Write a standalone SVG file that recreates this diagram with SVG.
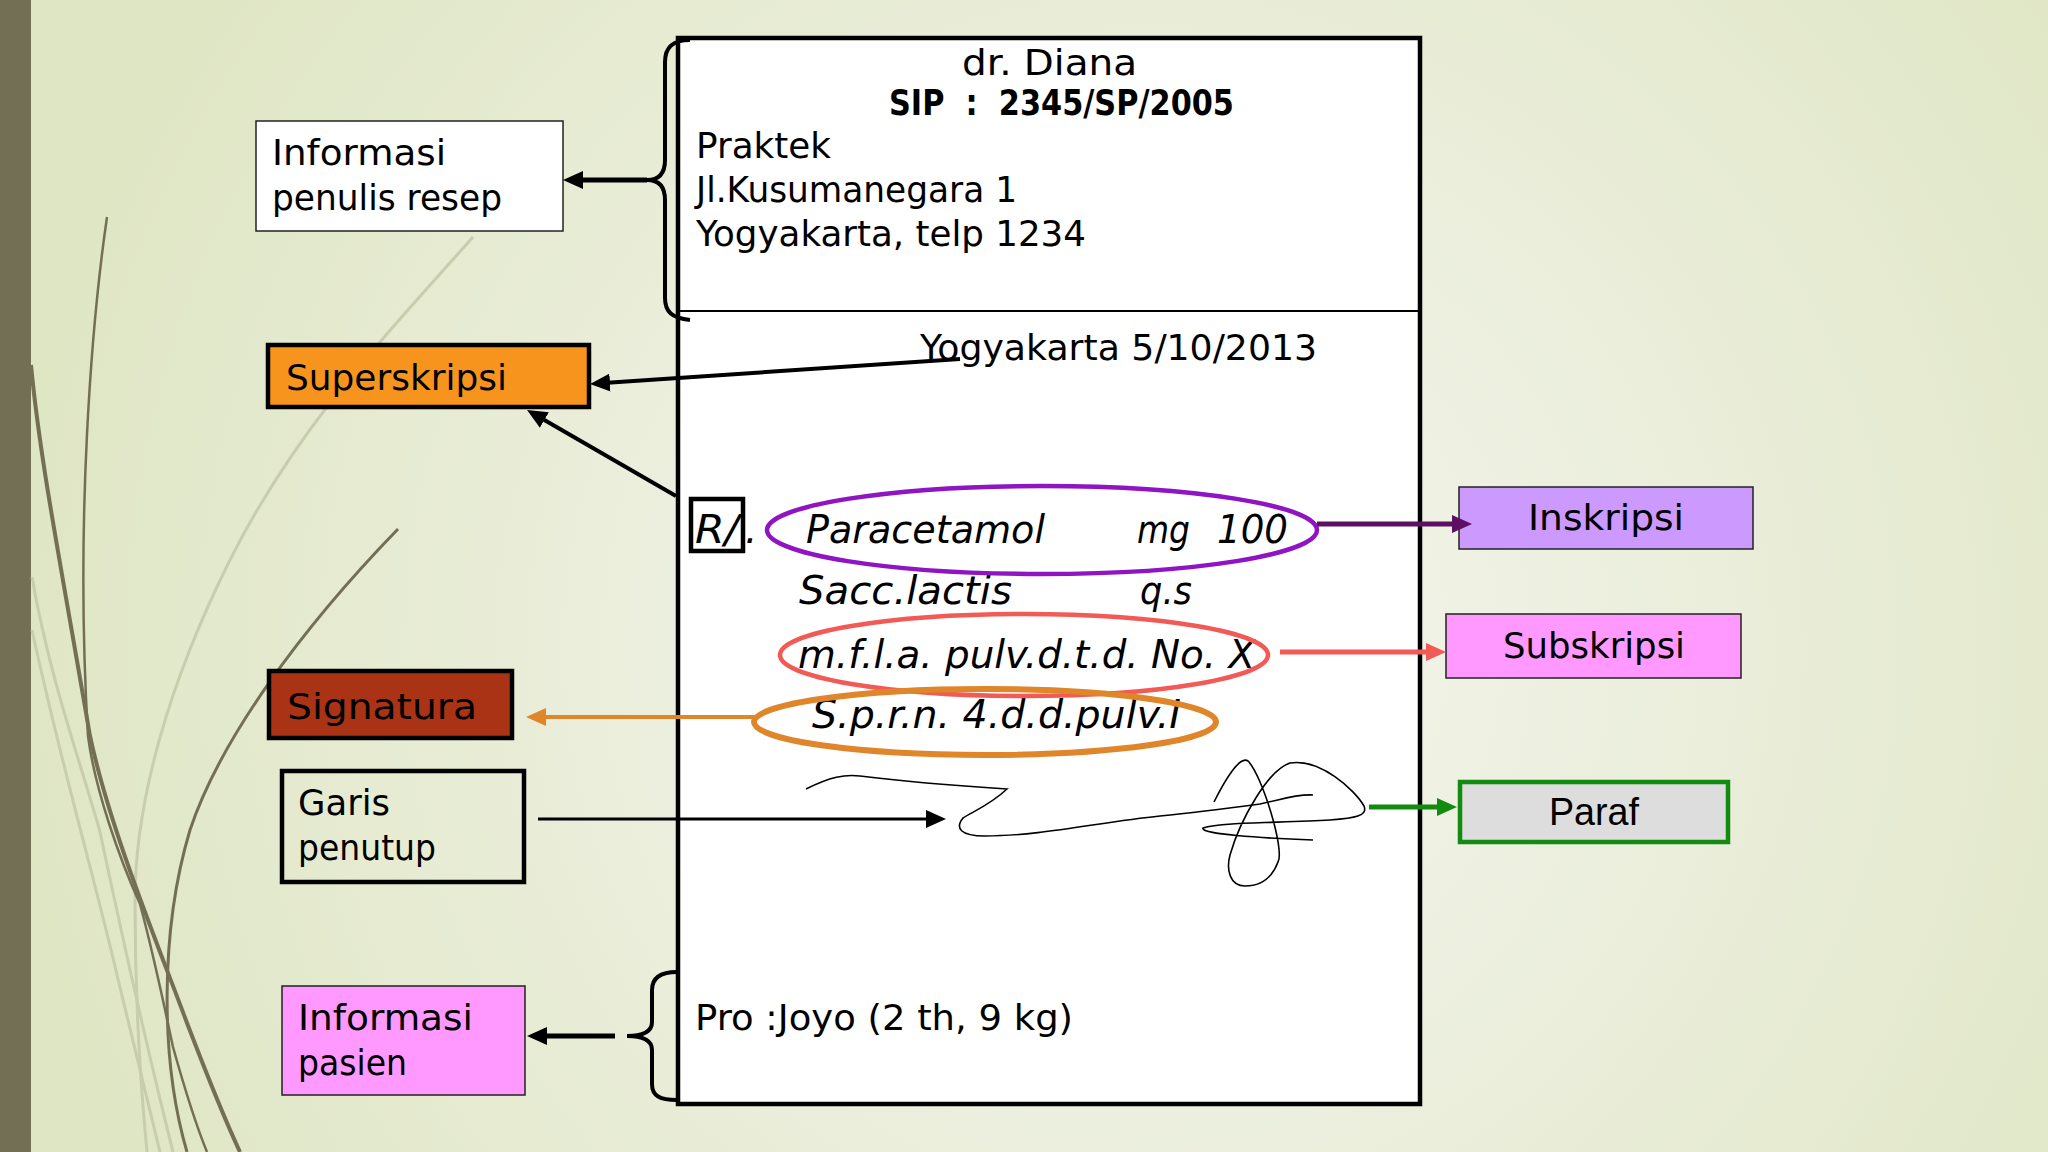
<svg xmlns="http://www.w3.org/2000/svg" width="2048" height="1152" viewBox="0 0 2048 1152">
  <defs>
    <radialGradient id="bg" cx="1150" cy="650" r="1150" gradientUnits="userSpaceOnUse">
      <stop offset="0" stop-color="#f5f6ee"/>
      <stop offset="0.55" stop-color="#e9edd8"/>
      <stop offset="1" stop-color="#dfe6c4"/>
    </radialGradient>
    <marker id="ahBlack" markerUnits="userSpaceOnUse" markerWidth="20" markerHeight="18" refX="10" refY="9" orient="auto">
      <path d="M0,0 L20,9 L0,18 z" fill="#000"/>
    </marker>
    <marker id="ahPurple" markerUnits="userSpaceOnUse" markerWidth="20" markerHeight="18" refX="10" refY="9" orient="auto">
      <path d="M0,0 L20,9 L0,18 z" fill="#5c0f63"/>
    </marker>
    <marker id="ahRed" markerUnits="userSpaceOnUse" markerWidth="20" markerHeight="18" refX="10" refY="9" orient="auto">
      <path d="M0,0 L20,9 L0,18 z" fill="#f25a55"/>
    </marker>
    <marker id="ahOrange" markerUnits="userSpaceOnUse" markerWidth="20" markerHeight="18" refX="10" refY="9" orient="auto">
      <path d="M0,0 L20,9 L0,18 z" fill="#e0862a"/>
    </marker>
    <marker id="ahGreen" markerUnits="userSpaceOnUse" markerWidth="20" markerHeight="18" refX="10" refY="9" orient="auto">
      <path d="M0,0 L20,9 L0,18 z" fill="#118c11"/>
    </marker>
  </defs>
  <style>
    .t { font-family: "DejaVu Sans", "Liberation Sans", sans-serif; font-size: 36px; fill: #000; }
    .it { font-family: "DejaVu Sans", "Liberation Sans", sans-serif; font-size: 39px; font-style: italic; fill: #000; }
    .thin { stroke: #222; stroke-width: 1.5; }
    .thick { stroke: #000; stroke-width: 4.5; }
    .deco { fill: none; stroke: #736f55; }
    .pale { fill: none; stroke: #c8cdae; }
    .brace { fill: none; stroke: #000; stroke-width: 4; }
  </style>

  <!-- background -->
  <rect x="0" y="0" width="2048" height="1152" fill="url(#bg)"/>
  <rect x="0" y="0" width="31" height="1152" fill="#736f55"/>
  <g id="decor">
    <path class="pale" stroke-width="3" d="M473,237 C400,320 300,420 230,560 C170,680 135,800 135,900 C135,1000 140,1080 147,1152"/>
    <path class="pale" stroke-width="3" d="M32,577 C50,680 80,760 100,832 C125,950 150,1060 173,1152"/>
    <path class="pale" stroke-width="3" d="M32,630 C60,760 95,880 117,975 C135,1050 150,1110 160,1152"/>
    <path class="deco" stroke-width="4" d="M31,365 C40,460 60,560 90,736 C110,830 160,950 187,1023 C205,1070 225,1120 240,1152"/>
    <path class="deco" stroke-width="2.5" d="M107,217 C92,320 75,520 88,736 C95,790 120,860 140,904 C155,960 165,1010 173,1047 C185,1090 198,1130 207,1152"/>
    <path class="deco" stroke-width="3" d="M398,529 C300,630 220,740 190,830 C160,930 160,1060 187,1152"/>
  </g>

  <!-- prescription sheet -->
  <g id="resep">
    <rect x="678" y="38" width="742" height="1066" fill="#fff" class="thick"/>
    <line x1="678" y1="311" x2="1420" y2="311" stroke="#000" stroke-width="2"/>
    <path class="brace" d="M690,40 C672,40 665,48 665,62 L665,160 C665,174 658,180 647,180 C658,180 665,186 665,200 L665,298 C665,312 672,318 690,320"/>
    <path class="brace" d="M677,972 C660,972 652,978 652,990 L652,1022 C652,1032 642,1036 627,1036 C642,1036 652,1040 652,1050 L652,1084 C652,1096 660,1100 677,1100"/>
    <text class="t" x="962" y="75" font-size="38" textLength="175" lengthAdjust="spacingAndGlyphs">dr. Diana</text>
    <text class="t" x="889" y="115" font-size="30" font-weight="bold" textLength="345" lengthAdjust="spacingAndGlyphs" xml:space="preserve">SIP  :  2345/SP/2005</text>
    <text class="t" x="696" y="158" textLength="135" lengthAdjust="spacingAndGlyphs">Praktek</text>
    <text class="t" x="696" y="202" textLength="321" lengthAdjust="spacingAndGlyphs">Jl.Kusumanegara 1</text>
    <text class="t" x="696" y="246" textLength="390" lengthAdjust="spacingAndGlyphs">Yogyakarta, telp 1234</text>
    <text class="t" x="920" y="360" textLength="397" lengthAdjust="spacingAndGlyphs">Yogyakarta 5/10/2013</text>
    <rect x="691" y="499" width="52" height="52" fill="none" class="thick"/>
    <text class="it" x="695" y="543" textLength="44" lengthAdjust="spacingAndGlyphs">R/</text>
    <text class="it" x="745" y="543">.</text>
    <text class="it" x="806" y="543" textLength="239" lengthAdjust="spacingAndGlyphs">Paracetamol</text>
    <text class="it" x="1137" y="543" textLength="53" lengthAdjust="spacingAndGlyphs">mg</text>
    <text class="it" x="1217" y="543" textLength="71" lengthAdjust="spacingAndGlyphs">100</text>
    <text class="it" x="799" y="604" textLength="213" lengthAdjust="spacingAndGlyphs">Sacc.lactis</text>
    <text class="it" x="1140" y="604" textLength="52" lengthAdjust="spacingAndGlyphs">q.s</text>
    <text class="it" x="798" y="668" font-size="41" textLength="457" lengthAdjust="spacingAndGlyphs">m.f.l.a. pulv.d.t.d. No. X</text>
    <text class="it" x="812" y="728" textLength="369" lengthAdjust="spacingAndGlyphs">S.p.r.n. 4.d.d.pulv.I</text>
    <ellipse cx="1042" cy="530" rx="275" ry="44" fill="none" stroke="#8e14c4" stroke-width="4.5"/>
    <ellipse cx="1024" cy="655" rx="244" ry="41" fill="none" stroke="#f25a55" stroke-width="4.5"/>
    <ellipse cx="985" cy="722" rx="231" ry="33" fill="none" stroke="#e0862a" stroke-width="6"/>
    <text class="t" x="695" y="1030" textLength="378" lengthAdjust="spacingAndGlyphs">Pro :Joyo (2 th, 9 kg)</text>
    <g id="paraf-scribble" fill="none" stroke="#000" stroke-width="1.6">
      <path d="M806,789 C830,777 845,774 860,776 C900,781 960,786 1007,789 C990,805 972,812 963,818 C955,828 960,836 985,836 C1040,836 1100,822 1160,816 C1200,812 1230,808 1260,804 C1280,800 1295,794 1313,795"/>
      <path d="M1214,802 C1225,780 1240,755 1248,761 C1262,775 1285,850 1278,862 C1272,878 1262,886 1245,886 C1230,886 1226,870 1230,855 C1240,820 1268,770 1290,763 C1320,758 1355,790 1364,806 C1368,816 1355,818 1330,820 C1280,823 1220,822 1203,828 C1200,834 1260,838 1313,840"/>
    </g>
  </g>

  <!-- label nodes -->
  <g id="informasi-penulis">
    <rect x="256" y="121" width="307" height="110" fill="#fff" class="thin"/>
    <text class="t" x="272" y="165" textLength="174" lengthAdjust="spacingAndGlyphs">Informasi</text>
    <text class="t" x="272" y="210" textLength="230" lengthAdjust="spacingAndGlyphs">penulis resep</text>
  </g>
  <g id="superskripsi">
    <rect x="268" y="345" width="321" height="62" fill="#f7941d" class="thick"/>
    <text class="t" x="286" y="390" textLength="221" lengthAdjust="spacingAndGlyphs">Superskripsi</text>
  </g>
  <g id="signatura">
    <rect x="269" y="671" width="243" height="67" fill="#a93314" class="thick"/>
    <text class="t" x="287" y="719" textLength="190" lengthAdjust="spacingAndGlyphs">Signatura</text>
  </g>
  <g id="garis-penutup">
    <rect x="282" y="771" width="242" height="111" fill="none" class="thick"/>
    <text class="t" x="298" y="815" textLength="92" lengthAdjust="spacingAndGlyphs">Garis</text>
    <text class="t" x="298" y="860" textLength="138" lengthAdjust="spacingAndGlyphs">penutup</text>
  </g>
  <g id="informasi-pasien">
    <rect x="282" y="986" width="243" height="109" fill="#ff99ff" class="thin"/>
    <text class="t" x="298" y="1030" textLength="175" lengthAdjust="spacingAndGlyphs">Informasi</text>
    <text class="t" x="298" y="1075" textLength="109" lengthAdjust="spacingAndGlyphs">pasien</text>
  </g>
  <g id="inskripsi">
    <rect x="1459" y="487" width="294" height="62" fill="#cc99ff" class="thin"/>
    <text class="t" x="1528" y="530" textLength="156" lengthAdjust="spacingAndGlyphs">Inskripsi</text>
  </g>
  <g id="subskripsi">
    <rect x="1446" y="614" width="295" height="64" fill="#ff99ff" class="thin"/>
    <text class="t" x="1503" y="658" textLength="182" lengthAdjust="spacingAndGlyphs">Subskripsi</text>
  </g>
  <g id="paraf">
    <rect x="1460" y="782" width="268" height="60" fill="#dddddd" stroke="#118c11" stroke-width="4.5"/>
    <text x="1549" y="825" font-family="Liberation Sans, Arial, sans-serif" font-size="38" textLength="90" lengthAdjust="spacingAndGlyphs">Paraf</text>
  </g>

  <!-- connectors -->
  <g id="connectors" fill="none">
    <line x1="647" y1="180" x2="573" y2="180" stroke="#000" stroke-width="5" marker-end="url(#ahBlack)"/>
    <line x1="960" y1="359" x2="600" y2="383.3" stroke="#000" stroke-width="4" marker-end="url(#ahBlack)"/>
    <line x1="676" y1="496" x2="535.7" y2="415" stroke="#000" stroke-width="4" marker-end="url(#ahBlack)"/>
    <line x1="1317" y1="524" x2="1462" y2="524" stroke="#5c0f63" stroke-width="5" marker-end="url(#ahPurple)"/>
    <line x1="1280" y1="652" x2="1436" y2="652" stroke="#f25a55" stroke-width="5" marker-end="url(#ahRed)"/>
    <line x1="755" y1="717" x2="536" y2="717" stroke="#e0862a" stroke-width="4" marker-end="url(#ahOrange)"/>
    <line x1="538" y1="819" x2="936" y2="819" stroke="#000" stroke-width="3" marker-end="url(#ahBlack)"/>
    <line x1="1369" y1="807" x2="1447" y2="807" stroke="#118c11" stroke-width="5" marker-end="url(#ahGreen)"/>
    <line x1="615" y1="1036" x2="537" y2="1036" stroke="#000" stroke-width="5" marker-end="url(#ahBlack)"/>
  </g>
</svg>
